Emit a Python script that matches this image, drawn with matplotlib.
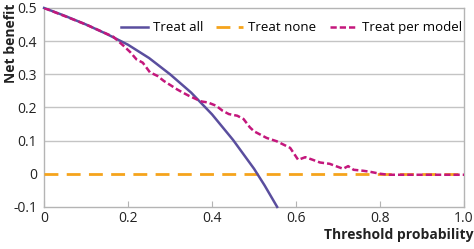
import numpy as np
import matplotlib
matplotlib.use('Agg')
import matplotlib.pyplot as plt

plt.rcParams['font.family'] = ['Open Sans', 'DejaVu Sans']

# treat all
all_t = [0.0, 0.05, 0.1, 0.15, 0.2, 0.25, 0.3, 0.35, 0.4, 0.45, 0.5, 0.525, 0.555]
all_nb = [0.5, 0.476, 0.45, 0.421, 0.389, 0.349, 0.3, 0.245, 0.179, 0.102, 0.015, -0.035, -0.1]

# treat none
none_t = [0.0, 1.0]
none_nb = [0.0, 0.0]

# treat per model
model_t = [0.0, 0.1, 0.165, 0.19, 0.205, 0.22, 0.235, 0.252, 0.27, 0.285, 0.30, 0.316,
           0.33, 0.345, 0.364, 0.375, 0.39, 0.41, 0.425, 0.44, 0.46, 0.475, 0.49, 0.50,
           0.53, 0.554, 0.586, 0.605, 0.622, 0.64, 0.657, 0.68, 0.712, 0.724, 0.737,
           0.76, 0.776, 0.80, 0.82, 1.0]
model_nb = [0.5, 0.45, 0.413, 0.385, 0.367, 0.345, 0.335, 0.306, 0.295, 0.28, 0.268, 0.255,
            0.245, 0.235, 0.224, 0.218, 0.215, 0.205, 0.19, 0.18, 0.175, 0.165, 0.14, 0.128,
            0.108, 0.098, 0.078, 0.042, 0.05, 0.042, 0.034, 0.03, 0.015, 0.023, 0.012,
            0.009, 0.006, 0.0, -0.003, -0.003]

x_ticks = [0, 0.2, 0.4, 0.6, 0.8, 1.0]
x_labels = ['0', '0.2', '0.4', '0.6', '0.8', '1.0']
y_ticks = [-0.1, 0, 0.1, 0.2, 0.3, 0.4, 0.5]
y_labels = ['-0.1', '0', '0.1', '0.2', '0.3', '0.4', '0.5']

fig = plt.figure(figsize=(4.74, 2.49), dpi=100)
ax = fig.add_axes([0.093, 0.169, 0.886, 0.799])

grey = '#b4b4b4'
for y in [0.1, 0.2, 0.3, 0.4]:
    ax.axhline(y, color='#c4c4c4', lw=1.0, zorder=1)

ax.plot(none_t, none_nb, color='#f5a41c', lw=2.0, dashes=(5, 3), label='Treat none', zorder=3)
ax.plot(all_t, all_nb, color='#5a4e9e', lw=1.8, label='Treat all', zorder=4, clip_on=False)
ax.plot(model_t, model_nb, color='#c4177c', lw=1.8, dashes=(2.5, 1.2), label='Treat per model', zorder=5)

ax.set_xlim(0, 1.0)
ax.set_ylim(-0.1, 0.5)
ax.set_xticks(x_ticks)
ax.set_xticklabels(x_labels)
ax.set_yticks(y_ticks)
ax.set_yticklabels(y_labels)
ax.tick_params(axis='x', direction='in', length=4, color=grey, labelsize=10, pad=3, labelcolor='#222222')
ax.tick_params(axis='y', length=0, labelsize=10, pad=5, labelcolor='#222222')
for s in ax.spines.values():
    s.set_color(grey)
    s.set_linewidth(1.0)

h, l = ax.get_legend_handles_labels()
order = [1, 0, 2]
leg = ax.legend([h[i] for i in order], [l[i] for i in order], ncol=3, loc='center right',
                bbox_to_anchor=(0.995, 0.9), frameon=False, fontsize=9.5, handlelength=2.05,
                handletextpad=0.38, columnspacing=1.0, borderaxespad=0.0, borderpad=0.0)
leg.set_zorder(6)

fig.text(0.024, 0.985, 'Net benefit', rotation=90, ha='center', va='top',
         fontsize=10, fontweight='bold', color='#222222')
fig.text(1.0, 0.03, 'Threshold probability', ha='right', va='bottom',
         fontsize=10, fontweight='bold', color='#222222')

fig.savefig('out.png', dpi=100)
